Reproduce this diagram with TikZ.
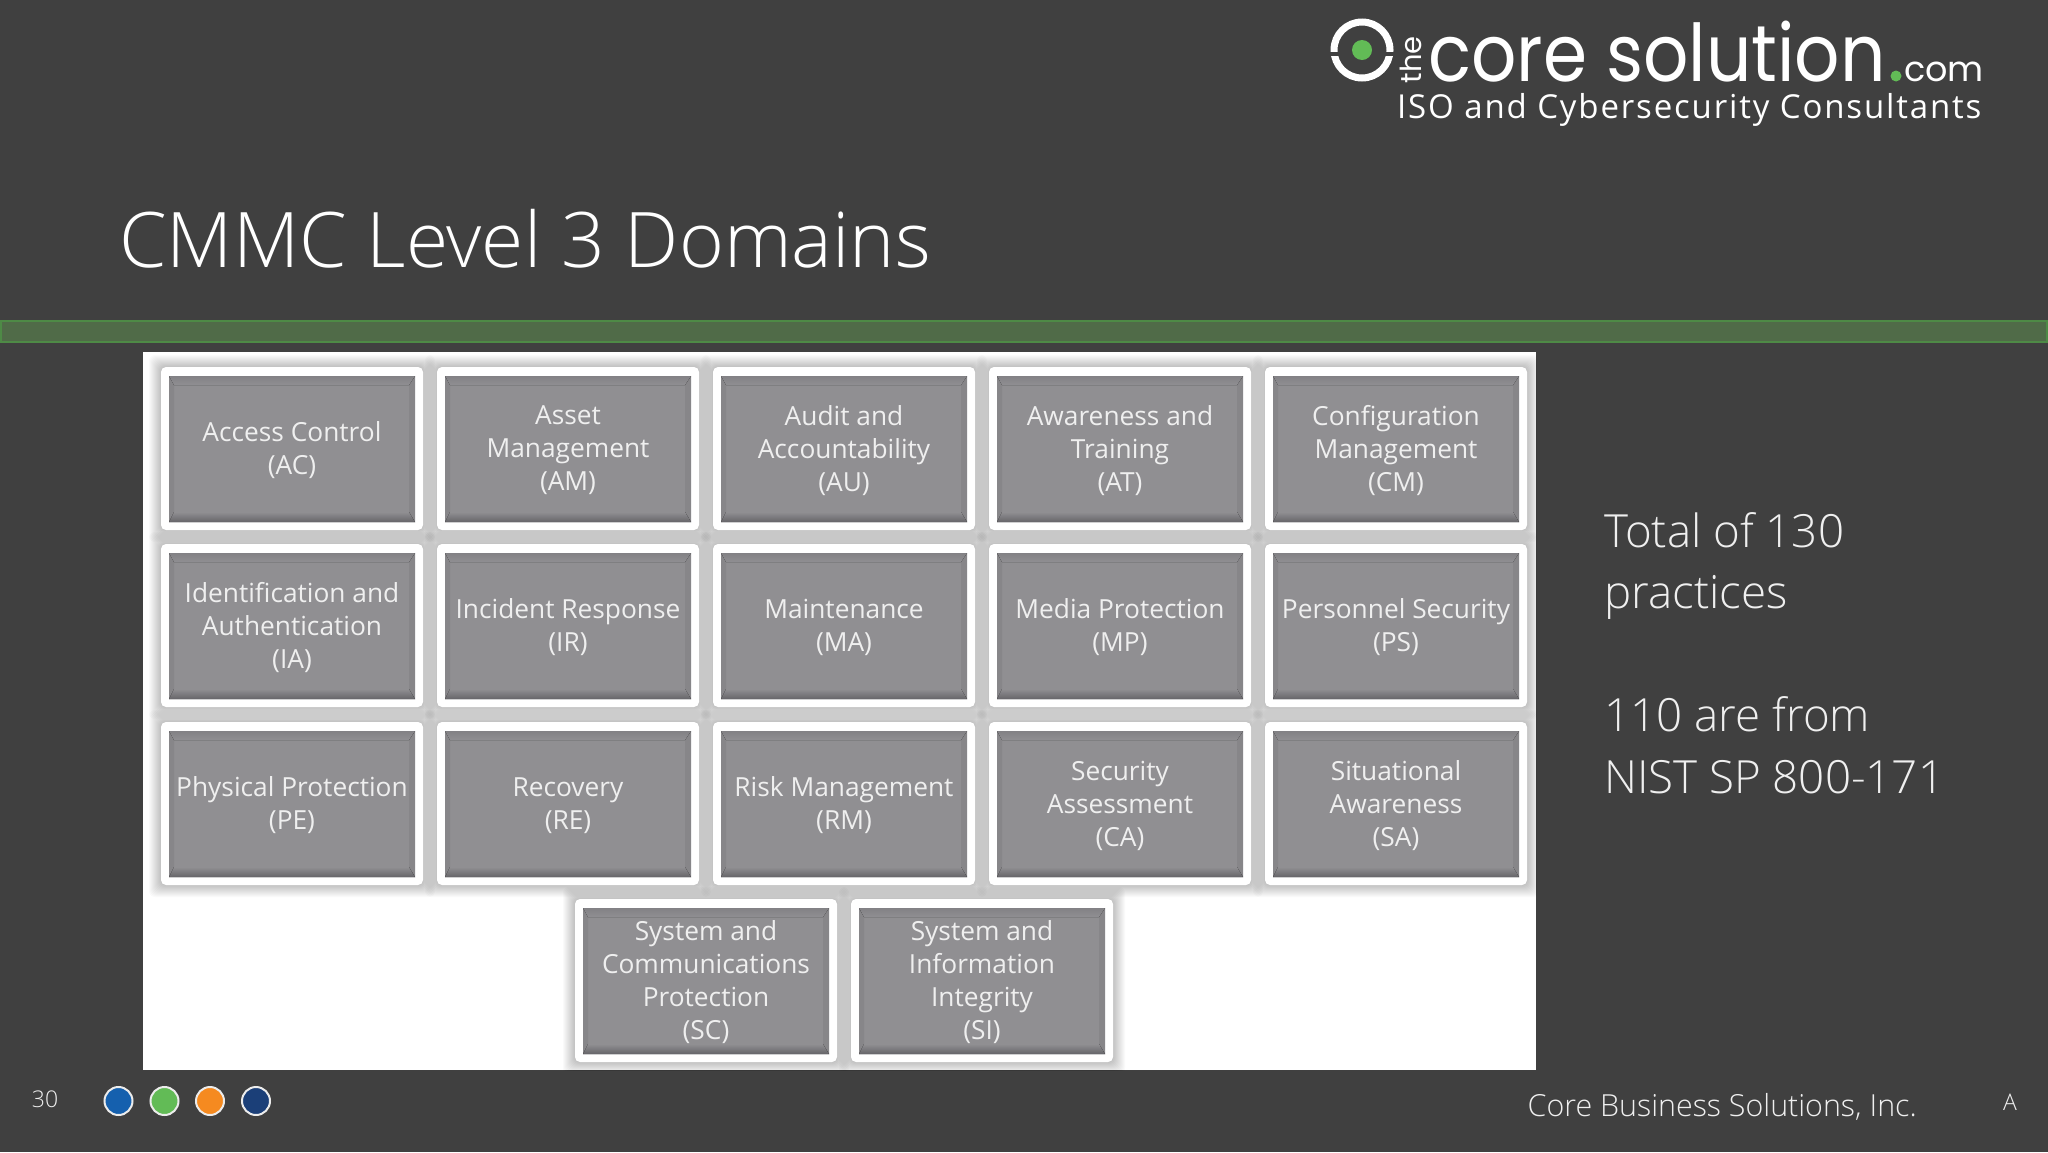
\documentclass[tikz,border=0pt]{standalone}
\usepackage{fontspec}
\setmainfont{Open Sans}[UprightFont=* Light]
\newfontfamily\boxfont{Open Sans}
\newfontfamily\tagfont{Open Sans}[LetterSpace=5.6]
\newfontfamily\logofont{Poppins}
\usetikzlibrary{calc}
\definecolor{bgc}{HTML}{404040}
\definecolor{bandf}{HTML}{506B48}
\definecolor{bandb}{HTML}{4E8A46}
\definecolor{boxc}{HTML}{908F92}
\definecolor{boxhi}{HTML}{828185}
\definecolor{boxlo}{HTML}{666569}
\definecolor{boxsd}{HTML}{878689}
\definecolor{txtc}{HTML}{EFEFEF}
\definecolor{lgreen}{HTML}{62BB56}
\definecolor{d1}{HTML}{1560AE}
\definecolor{d2}{HTML}{62BB56}
\definecolor{d3}{HTML}{F58A20}
\definecolor{d4}{HTML}{1B3F78}
\tikzset{
  x=1pt,y=-1pt,
  boxtext/.style={font=\boxfont\fontsize{26.3}{33}\selectfont,text=txtc,align=center,inner sep=0pt},
  sidetext/.style={font=\fontsize{45.7}{61.5}\selectfont,text=txtc,anchor=west,align=left,inner sep=0pt},
  footdot/.style={circle,draw=white!85!gray,line width=2pt,minimum size=28pt,inner sep=0pt},
}
% #1 left, #2 top
\newcommand{\domainshadow}[2]{%
  \foreach \s in {1,...,12}{
    \fill[black,opacity=.02,rounded corners=6pt] (#1-\s,#2-\s) rectangle (#1+262+\s,#2+163+\s);
  }
}
% #1 name, #2 left, #3 top, #4 outer height, #5 text
\newcommand{\domainbox}[5]{%
  \fill[white,rounded corners=5pt] (#2,#3) rectangle (#2+262,#3+#4);
  \fill[boxc] (#2+8,#3+9) rectangle (#2+254,#3+#4-8);
  \fill[boxsd] (#2+8,#3+9) -- (#2+13,#3+18) -- (#2+13,#3+#4-18) -- (#2+8,#3+#4-8) -- cycle;
  \fill[boxsd] (#2+254,#3+9) -- (#2+248,#3+18) -- (#2+248,#3+#4-18) -- (#2+254,#3+#4-8) -- cycle;
  \fill[top color=boxhi,bottom color=boxc] (#2+8,#3+9) -- (#2+254,#3+9) -- (#2+248,#3+18) -- (#2+13,#3+18) -- cycle;
  \fill[top color=boxc,bottom color=boxlo] (#2+8,#3+#4-8) -- (#2+254,#3+#4-8) -- (#2+248,#3+#4-18) -- (#2+13,#3+#4-18) -- cycle;
  \node[boxtext] (#1) at (#2+131,#3+#4/2+2) {#5};
}
\begin{document}
\begin{tikzpicture}
\useasboundingbox (0,0) rectangle (2048,1152);
\fill[bgc] (0,0) rectangle (2048,1152);
% band
\draw[bandb,line width=2pt,fill=bandf] (1,321) rectangle (2047,342);
% white panel
\fill[white] (143,352) rectangle (1536,1070);
% shadows, clipped to the panel
\begin{scope}
\clip (143,352) rectangle (1536,1070);
\foreach \py in {367,544,722}{
  \foreach \px in {161,437,713,989,1265}{
    \domainshadow{\px}{\py}
  }
}
\domainshadow{575}{899}
\domainshadow{851}{899}
\end{scope}
% boxes
\domainbox{ac}{161}{367}{163}{Access Control\\(AC)}
\domainbox{am}{437}{367}{163}{Asset\\Management\\(AM)}
\domainbox{au}{713}{367}{163}{Audit and\\Accountability\\(AU)}
\domainbox{at}{989}{367}{163}{Awareness and\\Training\\(AT)}
\domainbox{cm}{1265}{367}{163}{Configuration\\Management\\(CM)}
\domainbox{ia}{161}{544}{163}{Identification and\\Authentication\\(IA)}
\domainbox{ir}{437}{544}{163}{Incident Response\\(IR)}
\domainbox{ma}{713}{544}{163}{Maintenance\\(MA)}
\domainbox{mp}{989}{544}{163}{Media Protection\\(MP)}
\domainbox{ps}{1265}{544}{163}{Personnel Security\\(PS)}
\domainbox{pe}{161}{722}{163}{Physical Protection\\(PE)}
\domainbox{re}{437}{722}{163}{Recovery\\(RE)}
\domainbox{rm}{713}{722}{163}{Risk Management\\(RM)}
\domainbox{ca}{989}{722}{163}{Security\\Assessment\\(CA)}
\domainbox{sa}{1265}{722}{163}{Situational\\Awareness\\(SA)}
\domainbox{sc}{575}{899}{163}{System and\\Communications\\Protection\\(SC)}
\domainbox{si}{851}{899}{163}{System and\\Information\\Integrity\\(SI)}
% title
\node[font=\fontsize{76.7}{90}\selectfont,text=white,anchor=base west,inner sep=0pt] (title) at (119,267) {CMMC Level 3 Domains};
% side text
\node[sidetext] (side1) at (1604,566) {Total of 130\\practices};
\node[sidetext] (side2) at (1604,745) {110 are from\\NIST SP 800-171};
% footer
\node[font=\fontsize{23}{28}\selectfont,text=txtc,inner sep=0pt] (pg) at (45,1099) {30};
\node[footdot,fill=d1] (c1) at (118.5,1101) {};
\node[footdot,fill=d2] (c2) at (164.5,1101) {};
\node[footdot,fill=d3] (c3) at (210,1101) {};
\node[footdot,fill=d4] (c4) at (256,1101) {};
\node[font=\fontsize{30.4}{38}\selectfont,text=txtc,anchor=base east,inner sep=0pt] (corp) at (1917,1116) {Core Business Solutions, Inc.};
\node[font=\fontsize{23}{28}\selectfont,text=txtc,inner sep=0pt] (aa) at (2010,1102) {A};
% logo
\draw[white,line width=7pt] (1362,50) circle[radius=28];
\fill[bgc] (1326,51.5) rectangle (1344,55.5);
\fill[bgc] (1380,51.5) rectangle (1398,55.5);
\fill[lgreen] (1362,50) circle[radius=10];
\node[font=\logofont\fontsize{29}{29}\selectfont,text=white,rotate=90,inner sep=0pt] (the) at (1411,60) {the};
\node[font=\logofont\fontsize{71}{71}\selectfont,text=white,anchor=base west,inner sep=0pt,yscale=1.12] (core) at (1428,81) {core solution};
\fill[lgreen] (1896,76) circle[radius=5.5];
\node[font=\logofont\fontsize{35}{35}\selectfont,text=white,anchor=base west,inner sep=0pt] (com) at (1904,81) {com};
\node[font=\tagfont\fontsize{33}{33}\selectfont,text=white,anchor=base west,inner sep=0pt] (tag) at (1397,118) {ISO and Cybersecurity Consultants};
\end{tikzpicture}
\end{document}
